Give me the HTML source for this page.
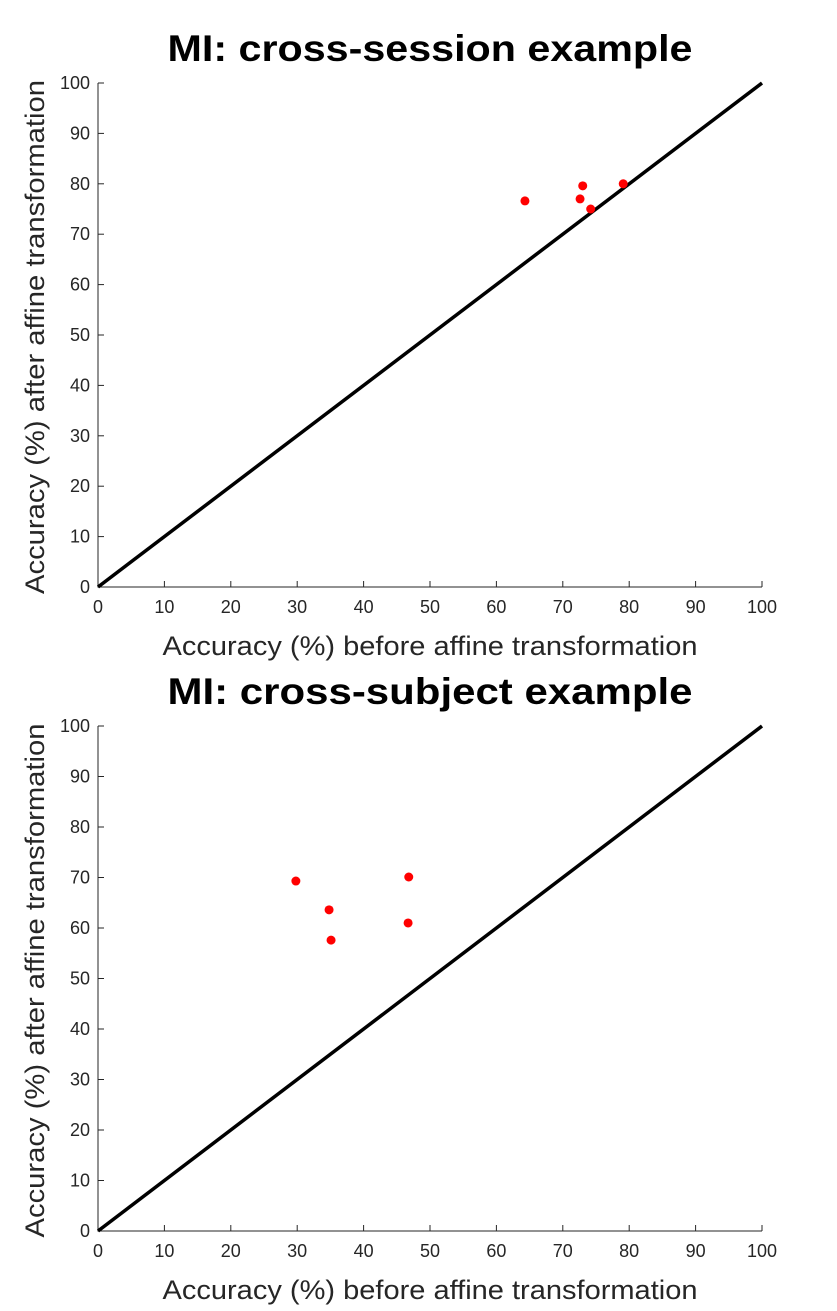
<!DOCTYPE html>
<html><head><meta charset="utf-8"><style>
body{margin:0;background:#fff;width:837px;height:1306px;overflow:hidden}
svg{font-family:"Liberation Sans",Arial,sans-serif}
</style></head><body>
<svg id="svg" width="837" height="1306"></svg>
<script>
const ticks=[0,10,20,30,40,50,60,70,80,90,100];
const titles=["MI: cross-session example","MI: cross-subject example"];
const xs1=[64.3,73.0,72.6,74.2,79.1];
const ys1=[76.6,79.6,77.0,75.0,80.0];
const xs2=[29.8,34.8,35.1,46.8,46.7];
const ys2=[69.3,63.6,57.6,70.1,61.0];
const NS="http://www.w3.org/2000/svg";
const svg=document.getElementById('svg');
function mk(t,a,p){const e=document.createElementNS(NS,t);for(const k in a)e.setAttribute(k,a[k]);(p||svg).appendChild(e);return e;}
function panel(i,x0,y0,w,h,xs,ys){
  const g=mk('g',{});
  
  
  const sx=v=>x0+v/100*w, sy=v=>y0-v/100*h;
  const t=mk('text',{x:x0+w/2,y:y0-h-22,'text-anchor':'middle','font-size':37,'font-weight':'bold',fill:'#000',textLength:525,lengthAdjust:'spacingAndGlyphs'},g);
  t.textContent=titles[i];
  
  
  const ax=mk('path',{d:`M${x0},${y0-h}V${y0}H${x0+w}`,stroke:'#262626','stroke-width':1,fill:'none'},g);
  
  
  ticks.forEach(v=>{
    mk('line',{x1:sx(v),x2:sx(v),y1:y0,y2:y0-6,stroke:'#262626'},g);
    mk('line',{x1:x0,x2:x0+6,y1:sy(v),y2:sy(v),stroke:'#262626'},g);
    const tx=mk('text',{x:sx(v),y:y0+26,'text-anchor':'middle','font-size':18,fill:'#262626'},g);
    tx.textContent=v;
    
    
    const ty=mk('text',{x:x0-8,y:sy(v)+6,'text-anchor':'end','font-size':18,fill:'#262626'},g);
    ty.textContent=v;
    
    
  });
  const xl=mk('text',{x:x0+w/2,y:y0+68,'text-anchor':'middle','font-size':27,fill:'#262626',textLength:535,lengthAdjust:'spacingAndGlyphs'},g);
  xl.textContent='Accuracy (%) before affine transformation';
  
  
  const yl=mk('text',{x:0,y:0,'text-anchor':'middle','font-size':27,fill:'#262626',textLength:514,lengthAdjust:'spacingAndGlyphs',transform:`translate(${x0-54},${y0-h/2+2}) rotate(-90)`},g);
  yl.textContent='Accuracy (%) after affine transformation';
  
  
  const dl=mk('line',{x1:sx(0),y1:sy(0),x2:sx(100),y2:sy(100),stroke:'#000','stroke-width':3.5},g);
  
  
  xs.forEach((v,k)=>{
    const c=mk('circle',{cx:sx(v),cy:sy(ys[k]),r:4.5,fill:'#f00'},g);
    
    
  });
}
panel(0,98,587,664,504,xs1,ys1);
panel(1,98,1231,664,505,xs2,ys2);
</script>
</body></html>
